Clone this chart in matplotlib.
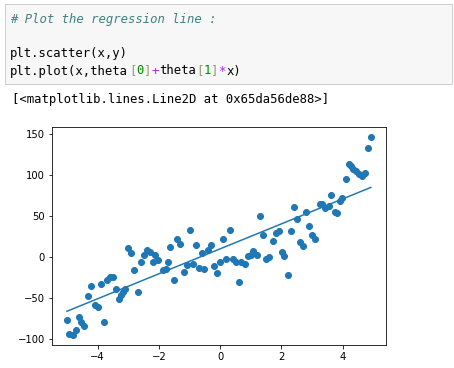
import matplotlib
matplotlib.use("Agg")
import matplotlib.pyplot as plt
from matplotlib.patches import Rectangle
import numpy as np

# scatter data
x = [-5.00, -4.92, -4.81, -4.71, -4.61, -4.53, -4.44, -4.32, -4.22, -4.08,
     -3.98, -3.88, -3.80, -3.70, -3.60, -3.50, -3.40, -3.31, -3.24, -3.18,
     -3.10, -3.01, -2.92, -2.82, -2.69, -2.59, -2.49, -2.39, -2.30, -2.20,
     -2.11, -2.01, -1.87, -1.78, -1.71, -1.65, -1.50, -1.41, -1.30, -1.18,
     -1.08, -0.99, -0.89, -0.79, -0.69, -0.59, -0.51, -0.40, -0.31, -0.21,
     -0.10, -0.01, 0.09, 0.20, 0.32, 0.42, 0.52, 0.61, 0.69, 0.82,
     0.91, 1.00, 1.09, 1.19, 1.30, 1.39, 1.49, 1.59, 1.72, 1.81,
     1.91, 2.01, 2.08, 2.22, 2.31, 2.41, 2.52, 2.61, 2.70, 2.80,
     2.91, 3.00, 3.11, 3.25, 3.33, 3.42, 3.54, 3.63, 3.74, 3.83,
     3.91, 3.98, 4.10, 4.20, 4.26, 4.34, 4.43, 4.53, 4.62, 4.72,
     4.83, 4.92]
y = [-77, -93.5, -95, -89, -73, -79, -84, -47, -35, -58,
     -61, -32.5, -79, -27.7, -24.8, -24.8, -38.7, -51, -46, -42.7,
     -38.7, 11, 4.9, -15.5, -42.3, -5.7, 2.4, 8.9, 5.6, -5.7,
     2.8, -4.1, -16.3, -14.3, -6.6, 12.2, -27.7, 22.3, 16.2, -18.3,
     -9.4, 33.3, -8.2, 14.6, -13.4, 4.9, -14.6, 8.9, 14.2, -10.6,
     -19.5, -5.4, 22.3, -2, 33.3, -2, -6.1, -30.5, -5.4, -8.2,
     1.6, 2.4, 7.7, 2.8, 50, 26.8, -2.4, 0, 19.9, 29.3,
     31.2, 6.1, 1.6, -22, 31.7, 61, 46.7, 18.3, 13.8, 54.9,
     38.2, 27.2, 22.3, 65, 65, 59.3, 61.7, 76, 54.4, 53.7,
     67.8, 72, 95.5, 113.4, 110.5, 107.7, 104.4, 101.2, 99.1, 102,
     132.9, 146.3]
theta = [10.0, 15.2]

W, H = 454, 368
fig = plt.figure(figsize=(W / 72, H / 72), dpi=72)

# notebook code cell
fig.patches.append(Rectangle((5 / W, 1 - 84 / H), 447 / W, 80 / H,
                             transform=fig.transFigure, facecolor="#f7f7f7",
                             edgecolor="#cfcfcf", linewidth=1))

mono = "DejaVu Sans Mono"
fs = 12.3
cw = 7.45  # px per character


def code(parts, x0, ypix):
    n = 0
    for txt, col, style in parts:
        fig.text((x0 + n * cw) / W, 1 - ypix / H, txt, color=col, fontstyle=style,
                 family=mono, fontsize=fs, va="center", ha="left")
        n += len(txt)


code([("# Plot the regression line :", "#408080", "italic")], 10, 20)
code([("plt.scatter(x,y)", "#000000", "normal")], 10, 53)
code([("plt.plot(x,theta", "#000000", "normal"), ("[", "#999977", "normal"),
      ("0", "#008800", "normal"), ("]", "#999977", "normal"),
      ("+", "#aa22ff", "normal"), ("theta", "#000000", "normal"),
      ("[", "#999977", "normal"), ("1", "#008800", "normal"),
      ("]", "#999977", "normal"), ("*", "#aa22ff", "normal"),
      ("x)", "#000000", "normal")], 10, 71)
code([("[<matplotlib.lines.Line2D at 0x65da56de88>]", "#000000", "normal")], 12, 100)

# output plot
ax = fig.add_axes([51.7 / W, 1 - 345 / H, (386 - 51.7) / W, (345 - 127) / H])
ax.scatter(x, y)
xa = np.array(x)
ax.plot(xa, theta[0] + theta[1] * xa)
ax.set_yticks([-100, -50, 0, 50, 100, 150])
ax.set_xticks([-4, -2, 0, 2, 4])

fig.savefig("out.png", dpi=72)
